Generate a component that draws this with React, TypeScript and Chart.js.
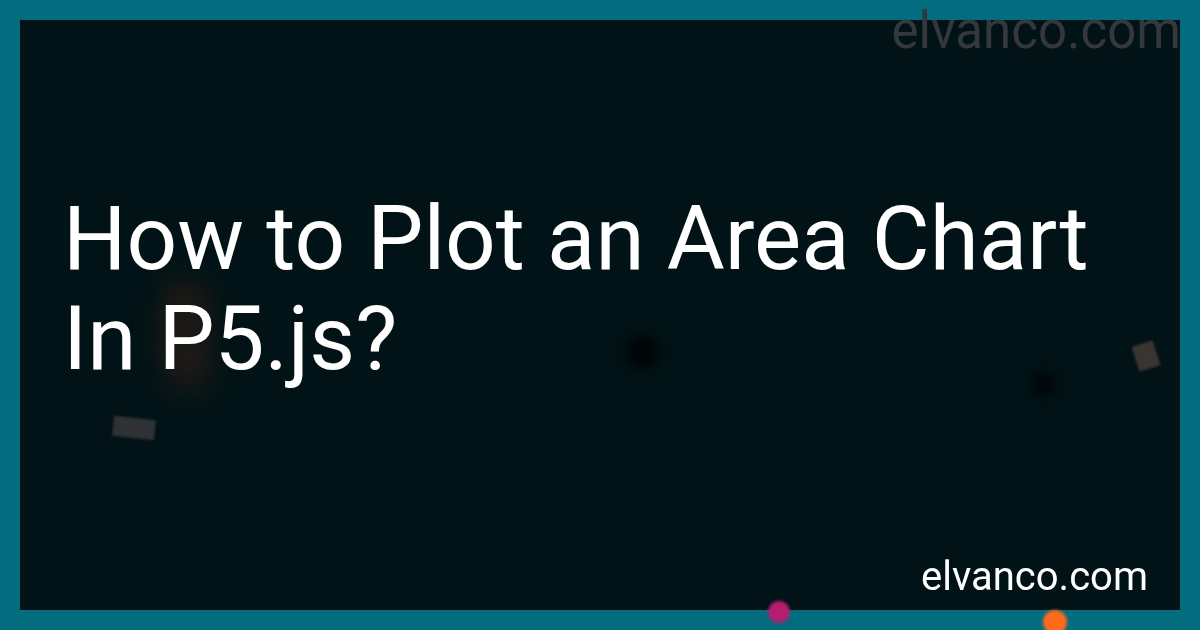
import React, { useEffect, useRef } from "react";
import { Chart, registerables } from "chart.js";

Chart.register(...registerables);

// ---- content ----
const titleLines = ["How to Plot an Area Chart", "In P5.js?"];
const siteName = "elvanco.com";

// ---- decorative bokeh marks (data units: x 0..1200, y 0..630) ----
const glowX = [186, 184, 188];
const glowY = [300, 335, 370];
const glowR = [26, 30, 26];

const shadowX = [643, 1043];
const shadowY = [352, 384];
const shadowR = [17, 12];

const chipX = [134, 1146];
const chipY = [428, 356];
const chipR = [21, 13];
const chipAngle = [6, 72];

const petalX = [779, 1055];
const petalY = [612, 622];
const petalR = [11, 12];

const blurPlugin = {
  id: "blurPlugin",
  beforeDatasetDraw(chart: any, args: any) {
    const ds = chart.data.datasets[args.index];
    chart.ctx.save();
    chart.ctx.filter = `blur(${ds.blur || 0}px)`;
  },
  afterDatasetDraw(chart: any) {
    chart.ctx.restore();
  },
};

function pts(xs: number[], ys: number[], rs: number[]) {
  return xs.map((x, i) => ({ x, y: ys[i], r: rs[i] }));
}

export default function App() {
  const ref = useRef<HTMLCanvasElement | null>(null);

  useEffect(() => {
    document.body.style.margin = "0";
    if (!ref.current) return;
    const chart = new Chart(ref.current, {
      type: "bubble",
      data: {
        datasets: [
          {
            label: "glow",
            data: pts(glowX, glowY, glowR),
            backgroundColor: "rgba(55,34,22,0.45)",
            borderWidth: 0,
            clip: false,
            blur: 14,
          } as any,
          {
            label: "shadow",
            data: pts(shadowX, shadowY, shadowR),
            backgroundColor: "rgba(0,4,6,0.95)",
            borderWidth: 0,
            clip: false,
            blur: 6,
          } as any,
          {
            label: "chips",
            data: pts(chipX, chipY, chipR),
            pointStyle: "line",
            rotation: chipAngle,
            borderColor: ["#2f3234", "#3a3531"],
            borderWidth: [20, 22],
            clip: false,
            blur: 0.8,
          } as any,
          {
            label: "petals",
            data: pts(petalX, petalY, petalR),
            backgroundColor: ["#b51d70", "#ff6a1c"],
            borderWidth: 0,
            clip: false,
            blur: 1.5,
          } as any,
        ],
      },
      options: {
        animation: false,
        responsive: true,
        maintainAspectRatio: false,
        events: [],
        layout: { padding: 0, autoPadding: false },
        plugins: { legend: { display: false }, tooltip: { enabled: false } },
        scales: {
          x: { type: "linear", min: 0, max: 1200, display: false },
          y: { type: "linear", min: 0, max: 630, reverse: true, display: false },
        },
      },
      plugins: [blurPlugin],
    });
    return () => chart.destroy();
  }, []);

  return (
    <div
      style={{
        position: "absolute",
        left: 0,
        top: 0,
        width: 1200,
        height: 630,
        background: "#046c7f",
        overflow: "hidden",
        fontFamily: "Roboto, 'Noto Sans', sans-serif",
      }}
    >
      <div
        style={{
          position: "absolute",
          left: 20,
          top: 20,
          width: 1160,
          height: 590,
          background: "#011317",
        }}
      />
      <div style={{ position: "absolute", left: 0, top: 0, width: 1200, height: 630 }}>
        <canvas ref={ref} />
      </div>
      <div
        style={{
          position: "absolute",
          right: 19,
          top: 5,
          fontSize: 51,
          lineHeight: "51px",
          color: "#35383a",
          whiteSpace: "nowrap",
        }}
      >
        {siteName}
      </div>
      <div
        style={{
          position: "absolute",
          left: 63,
          top: 189,
          fontSize: 89,
          lineHeight: "100px",
          color: "#ffffff",
          whiteSpace: "nowrap",
        }}
      >
        {titleLines.map((l, i) => (
          <div key={i}>{l}</div>
        ))}
      </div>
      <div
        style={{
          position: "absolute",
          right: 52,
          top: 557,
          fontSize: 40,
          lineHeight: "40px",
          color: "#ffffff",
          whiteSpace: "nowrap",
        }}
      >
        {siteName}
      </div>
    </div>
  );
}
